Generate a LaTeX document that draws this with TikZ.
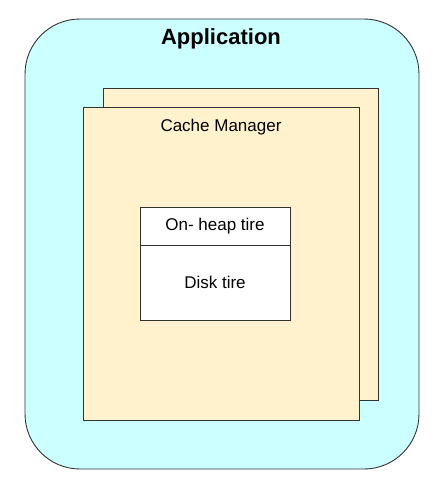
\documentclass[tikz,border=0pt]{standalone}
\usepackage{fontspec}
\setmainfont{Liberation Sans}
\definecolor{appfill}{HTML}{CCFFFF}
\definecolor{cachefill}{HTML}{FFF2CC}
\definecolor{edge}{HTML}{333333}
\begin{document}
\begin{tikzpicture}[x=1pt,y=-1pt,
  outline/.style={draw=edge, line width=0.9pt},
  appbox/.style={outline, fill=appfill, rounded corners=55pt},
  cachebox/.style={outline, fill=cachefill},
  tierbox/.style={outline, fill=white},
  label/.style={font=\fontsize{17}{20}\selectfont, inner sep=0pt}]
\useasboundingbox (0,0) rectangle (435,487);
\fill[white] (0,0) rectangle (435,487);
\draw[appbox] (25,19) rectangle (419,469);
\node[label, font=\bfseries\fontsize{22}{26}\selectfont] (app) at (221,39) {Application};
% stacked cache manager sheets
\draw[cachebox] (103,88) rectangle (378,400);
\draw[cachebox] (83,107) rectangle (359,420);
\node[label] (cm) at (221,127) {Cache Manager};
% storage tiers
\draw[tierbox] (140,207) rectangle (290,245);
\draw[tierbox] (140,245) rectangle (290,320);
\node[label] (heap) at (215,226) {On- heap tire};
\node[label] (disk) at (215,282) {Disk tire};
\end{tikzpicture}
\end{document}
